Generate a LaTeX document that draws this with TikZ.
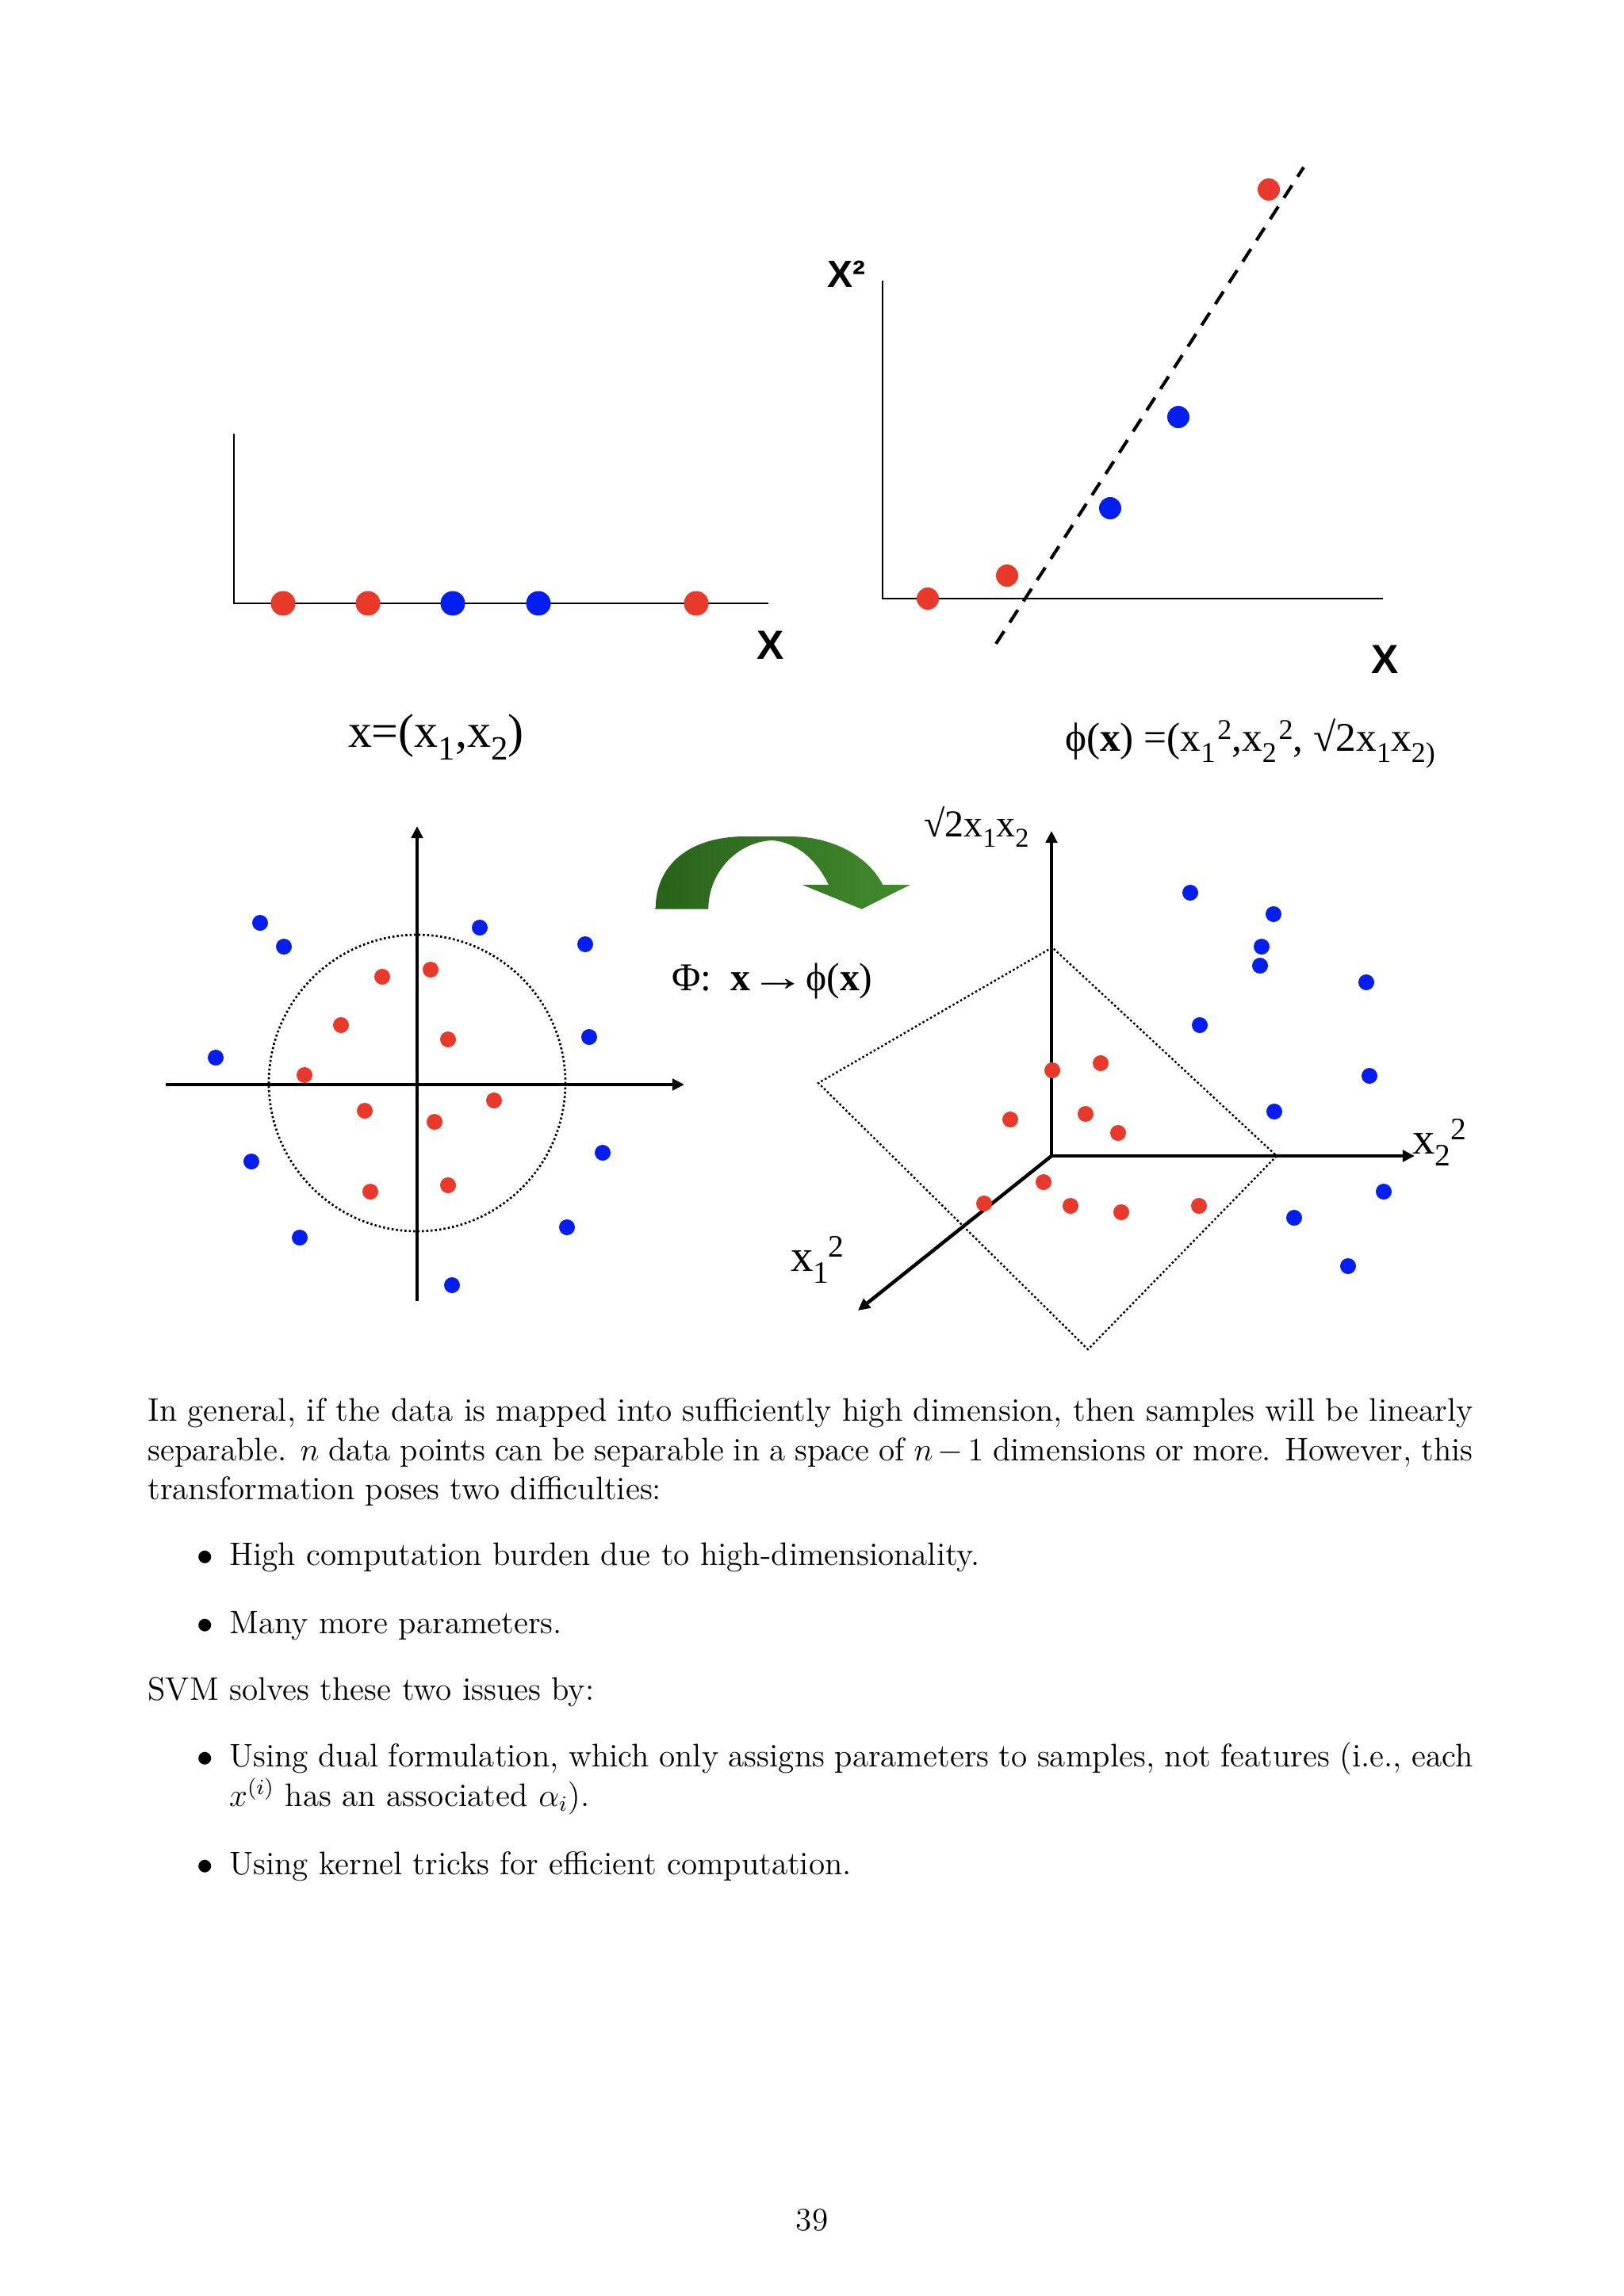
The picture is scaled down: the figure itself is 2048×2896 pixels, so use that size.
\documentclass[tikz,border=0pt]{standalone}
\usepackage{fontspec}
\usetikzlibrary{arrows.meta}
\newfontfamily\tms{Liberation Serif}
\newfontfamily\hlv{Liberation Sans}
\definecolor{dred}{RGB}{233,57,42}
\definecolor{dblue}{RGB}{5,30,240}
\definecolor{gdark}{RGB}{40,98,26}
\definecolor{glight}{RGB}{66,140,46}
\newcommand\shft[3]{\raisebox{#1}{\fontsize{#2}{#2}\selectfont #3}}
\begin{document}
\begin{tikzpicture}[x=0.0102539cm,y=-0.0102539cm,
  thinax/.style={line width=0.5pt},
  thickax/.style={line width=1.3pt,-{Triangle[length=4.4pt,width=4.2pt]}},
  dotline/.style={line width=0.8pt,dash pattern=on 0.75pt off 0.85pt},
  sepline/.style={line width=1.2pt,dash pattern=on 5.5pt off 3.8pt},
  lbl/.style={inner sep=0pt,outer sep=0pt},
  body/.style={inner sep=0pt,outer sep=0pt,anchor=base west,font=\fontsize{12}{14.5}\selectfont},
  sansx/.style={lbl,font=\hlv\bfseries\fontsize{15}{15}\selectfont}]
\fill[white] (0,0) rectangle (2048,2896);
\useasboundingbox (0,0) rectangle (2048,2896);

% ---------- top left: 1D data ----------
\coordinate (tlO) at (295,761);
\coordinate (tlY) at (295,547);
\coordinate (tlX) at (969,761);
\draw[thinax] (tlY) -- (tlO) -- (tlX);
\foreach \a in {357,464,878} \fill[dred] (\a,761) circle[radius=15.5];
\foreach \a in {571,679} \fill[dblue] (\a,761) circle[radius=15.5];
\node[sansx,anchor=base] (tlXl) at (972,831) {X};
\node[lbl,anchor=base west] (tlF) at (439,942) {\tms\fontsize{17.5}{17.5}\selectfont x=(x\shft{-4.7pt}{12.5}{1},x\shft{-4.7pt}{12.5}{2})};

% ---------- top right: lifted data ----------
\coordinate (trO) at (1113,755);
\coordinate (trY) at (1113,354);
\coordinate (trX) at (1744,755);
\draw[thinax] (trY) -- (trO) -- (trX);
\coordinate (sepA) at (1256,812);
\coordinate (sepB) at (1644,211);
\draw[sepline] (sepA) -- (sepB);
\foreach \a/\b in {1170/755,1270/726,1600/239} \fill[dred] (\a,\b) circle[radius=14];
\foreach \a/\b in {1400/641,1486/526} \fill[dblue] (\a,\b) circle[radius=14];
\node[lbl,anchor=base west,font=\hlv\bfseries\fontsize{14}{14}\selectfont] (trYl) at (1043,362) {X²};
\node[sansx,anchor=base] (trXl) at (1747,849) {X};
\node[lbl,anchor=base west] (trF) at (1343,947) {\tms\fontsize{15}{15}\selectfont ϕ(\textbf{x}) =(x\shft{-4.2pt}{10.5}{1}\kern0.8pt\shft{4.2pt}{10.5}{2},x\shft{-4.2pt}{10.5}{2}\kern0.8pt\shft{4.2pt}{10.5}{2}, √2x\shft{-4.2pt}{10.5}{1}x\shft{-4.2pt}{10.5}{2)}};

% ---------- bottom left: 2D data ----------
\coordinate (blL) at (209,1368);
\coordinate (blR) at (863,1368);
\coordinate (blB) at (526,1641);
\coordinate (blT) at (526,1042);
\draw[thickax] (blL) -- (blR);
\draw[thickax] (blB) -- (blT);
\draw[dotline] (526,1366) circle[radius=187];
\foreach \a/\b in {482/1232,543/1223,430/1293,565/1311,384/1356,460/1401,548/1415,623/1388,467/1503,565/1495}
  \fill[dred] (\a,\b) circle[radius=10];
\foreach \a/\b in {328/1164,358/1194,605/1170,738/1191,743/1308,272/1334,760/1454,317/1465,715/1548,378/1561,570/1621}
  \fill[dblue] (\a,\b) circle[radius=10];

% ---------- green curved arrow ----------
\shade[left color=gdark,right color=glight]
  (826.7,1146.7) .. controls (826.7,1090) and (870,1055) .. (940,1055)
  -- (996.7,1055) .. controls (1050,1055) and (1095,1080) .. (1113.3,1116)
  -- (1147.7,1116) -- (1086.7,1146.7) -- (1011.7,1116) -- (1045,1116)
  .. controls (1030,1085) and (1005,1062) .. (973.3,1060)
  .. controls (930,1062) and (893.3,1100) .. (893.3,1146.7) -- cycle;
\node[lbl,anchor=base west] (phiMap) at (847,1249) {\tms\fontsize{14.5}{14.5}\selectfont Φ:\ \ \textbf{x}\scalebox{1.4}[1]{→}ϕ(\textbf{x})};

% ---------- bottom right: 3D feature space ----------
\coordinate (o3) at (1326,1458);
\coordinate (z3) at (1326,1048);
\coordinate (y3) at (1784,1458);
\coordinate (x3) at (1082,1653);
\coordinate (pT) at (1327,1195);
\coordinate (pL) at (1032,1366);
\coordinate (pB) at (1372,1702);
\coordinate (pR) at (1610,1458);
\draw[dotline,line width=0.7pt] (pT) -- (pL) -- (pB) -- (pR) -- cycle;
\draw[thickax] (o3) -- (z3);
\draw[thickax] (o3) -- (y3);
\draw[thickax] (o3) -- (x3);
\foreach \a/\b in {1327/1350,1388/1341,1274/1412,1369/1405,1410/1429,1316/1491,1241/1518,1350/1521,1414/1529,1512/1521}
  \fill[dred] (\a,\b) circle[radius=10];
\foreach \a/\b in {1501/1126,1606/1153,1591/1194,1589/1218,1723/1239,1513/1293,1727/1357,1607/1402,1745/1503,1632/1536,1700/1597}
  \fill[dblue] (\a,\b) circle[radius=10];
\node[lbl,anchor=base west] (zl) at (1165,1055) {\tms\fontsize{14}{14}\selectfont √2x\shft{-4pt}{10}{1}x\shft{-4pt}{10}{2}};
\node[lbl,anchor=base west] (yl) at (1781,1455) {\tms\fontsize{16.5}{16.5}\selectfont x\shft{-4.5pt}{11.5}{2}\shft{5pt}{11.5}{2}};
\node[lbl,anchor=base west] (xl) at (997,1603) {\tms\fontsize{16.5}{16.5}\selectfont x\shft{-4.5pt}{11.5}{1}\shft{5pt}{11.5}{2}};

% ---------- body text ----------
\node[body] (l1) at (186.5,1792) {\hbox to 487.6pt{In general, if the data is mapped into sufficiently high dimension, then samples will be linearly}};
\node[body] (l2) at (186.5,1842) {\hbox to 487.6pt{separable. $n$ data points can be separable in a space of $n-1$ dimensions or more. However, this}};
\node[body] (l3) at (186.5,1891) {transformation poses two difficulties:};
\node[body,anchor=base east] (b1) at (268.6,1974) {$\bullet$};
\node[body] (i1) at (289.2,1974) {High computation burden due to high-dimensionality.};
\node[body,anchor=base east] (b2) at (268.6,2060) {$\bullet$};
\node[body] (i2) at (289.2,2060) {Many more parameters.};
\node[body] (l4) at (186.5,2144) {SVM solves these two issues by:};
\node[body,anchor=base east] (b3) at (268.6,2228) {$\bullet$};
\node[body] (i3) at (289.2,2228) {\hbox to 457.6pt{Using dual formulation, which only assigns parameters to samples, not features (i.e., each}};
\node[body] (i3b) at (289.2,2278) {$x^{(i)}$ has an associated $\alpha_i$).};
\node[body,anchor=base east] (b4) at (268.6,2364) {$\bullet$};
\node[body] (i4) at (289.2,2364) {Using kernel tricks for efficient computation.};
\node[body,anchor=base] (pg) at (1024,2813) {39};
\end{tikzpicture}
\end{document}
